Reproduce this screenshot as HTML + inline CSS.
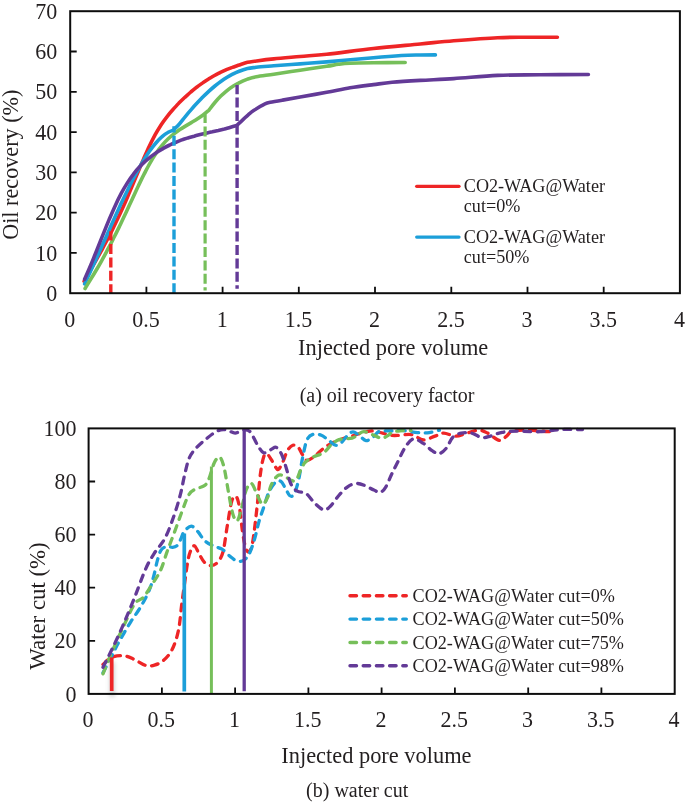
<!DOCTYPE html>
<html lang="en"><head><meta charset="utf-8"><title>CO2-WAG oil recovery and water cut</title>
<style>html,body{margin:0;padding:0;background:#fff}body{width:685px;height:804px;overflow:hidden}svg{display:block}text{font-family:"Liberation Serif","Times New Roman",serif;fill:#231F20}</style>
</head><body>
<svg width="685" height="804" viewBox="0 0 685 804">
<rect width="685" height="804" fill="#fff"/>
<g id="chart-a">
<path d="M84.1,281.3 C85.1,279.5 88.1,274.2 90.0,270.7 C92.0,267.2 94.0,263.9 96.0,260.4 C97.9,256.9 99.9,253.4 101.9,249.8 C103.9,246.1 105.8,242.4 107.8,238.6 C109.8,234.8 111.8,231.0 113.7,226.9 C115.7,222.9 117.7,218.8 119.7,214.6 C121.6,210.3 123.6,205.9 125.6,201.4 C127.6,196.9 129.5,192.1 131.5,187.5 C133.5,182.8 135.5,177.9 137.5,173.3 C139.4,168.6 141.4,163.9 143.4,159.4 C145.4,154.9 147.3,150.5 149.3,146.3 C151.3,142.2 153.3,138.3 155.2,134.7 C157.2,131.1 159.2,127.9 161.2,124.8 C163.1,121.8 165.1,119.1 167.1,116.6 C169.1,114.0 171.0,111.7 173.0,109.5 C175.0,107.3 177.0,105.2 178.9,103.1 C180.9,101.1 182.9,99.2 184.9,97.3 C186.9,95.5 188.8,93.7 190.8,92.0 C192.8,90.4 194.8,88.8 196.7,87.2 C198.7,85.7 200.7,84.3 202.7,82.9 C204.6,81.5 206.6,80.2 208.6,79.0 C210.6,77.8 212.5,76.6 214.5,75.5 C216.5,74.4 218.5,73.4 220.4,72.4 C222.4,71.5 224.4,70.6 226.4,69.7 C228.4,68.9 230.3,68.1 232.3,67.4 C234.3,66.6 235.7,66.2 238.2,65.3 C240.8,64.5 244.5,63.0 247.5,62.3 C250.5,61.6 251.9,61.6 256.3,61.0 C260.7,60.4 266.5,59.6 273.8,58.9 C281.1,58.1 291.3,57.3 300.1,56.5 C308.9,55.7 314.5,55.5 326.7,54.2 C338.9,52.9 357.8,50.2 373.4,48.5 C389.0,46.8 406.8,45.3 420.2,44.0 C433.6,42.7 440.9,41.8 453.8,40.7 C466.7,39.7 484.9,38.3 497.6,37.7 C510.3,37.1 520.0,37.4 530.0,37.3 C540.0,37.2 552.8,37.2 557.4,37.2" fill="none" stroke="#EE2526" stroke-width="3.6" stroke-linecap="round" stroke-linejoin="round"/>
<path d="M84.6,283.9 C85.6,281.8 88.6,275.5 90.5,271.2 C92.5,267.0 94.5,262.7 96.5,258.3 C98.5,254.0 100.4,249.6 102.4,245.1 C104.4,240.7 106.4,236.2 108.4,231.8 C110.3,227.4 112.3,222.9 114.3,218.5 C116.3,214.2 118.3,209.8 120.2,205.5 C122.2,201.3 124.2,197.0 126.2,193.0 C128.2,188.9 130.1,184.8 132.1,181.0 C134.1,177.1 136.1,173.4 138.1,169.8 C140.0,166.3 142.0,162.8 144.0,159.6 C146.0,156.4 148.0,153.4 149.9,150.6 C151.9,147.9 153.9,145.3 155.9,143.0 C157.9,140.7 159.8,138.6 161.8,136.9 C163.8,135.1 165.8,133.6 167.8,132.5 C169.7,131.3 172.7,130.4 173.7,130.0 C174.7,128.9 177.6,125.9 179.6,123.7 C181.6,121.4 183.5,118.7 185.5,116.3 C187.4,114.0 189.4,111.6 191.4,109.4 C193.3,107.1 195.3,104.9 197.3,102.8 C199.2,100.7 201.2,98.7 203.1,96.7 C205.1,94.7 207.1,92.9 209.0,91.1 C211.0,89.3 213.0,87.6 214.9,86.0 C216.9,84.4 218.8,82.9 220.8,81.5 C222.8,80.1 224.7,78.8 226.7,77.5 C228.7,76.3 230.6,75.2 232.6,74.2 C234.5,73.2 236.0,72.4 238.5,71.5 C241.0,70.5 244.5,69.2 247.5,68.5 C250.5,67.8 251.9,67.8 256.3,67.3 C260.7,66.8 266.5,66.4 273.8,65.8 C281.1,65.2 291.3,64.5 300.1,63.9 C308.9,63.2 314.5,62.9 326.7,61.9 C338.9,60.9 360.9,58.8 373.4,57.7 C385.9,56.6 393.7,56.0 401.5,55.5 C409.3,55.0 414.6,55.1 420.2,55.0 C425.8,54.9 432.9,54.9 435.4,54.9" fill="none" stroke="#1C9FD9" stroke-width="3.6" stroke-linecap="round" stroke-linejoin="round"/>
<path d="M85.1,288.5 C86.1,286.9 89.0,282.0 91.0,278.8 C93.0,275.6 94.9,272.4 96.9,269.0 C98.9,265.7 100.8,262.2 102.8,258.7 C104.8,255.1 106.7,251.4 108.7,247.7 C110.7,244.0 112.6,240.1 114.6,236.2 C116.6,232.3 118.5,228.3 120.5,224.2 C122.5,220.1 124.4,215.9 126.4,211.7 C128.4,207.5 130.3,203.1 132.3,198.9 C134.3,194.6 136.2,190.4 138.2,186.2 C140.2,182.1 142.1,178.0 144.1,174.2 C146.1,170.4 148.0,166.6 150.0,163.2 C152.0,159.7 153.9,156.5 155.9,153.6 C157.9,150.6 159.8,148.0 161.8,145.7 C163.8,143.3 165.7,141.2 167.7,139.3 C169.7,137.4 171.6,135.7 173.6,134.1 C175.6,132.6 177.5,131.2 179.5,129.8 C181.5,128.5 183.4,127.3 185.4,126.1 C187.4,124.9 189.3,123.8 191.3,122.6 C193.3,121.4 195.2,120.3 197.2,119.0 C199.2,117.7 201.1,116.5 203.1,115.0 C205.1,113.5 208.0,110.9 209.0,110.1 C210.0,108.8 212.9,104.8 214.9,102.5 C216.9,100.2 218.8,98.1 220.8,96.1 C222.7,94.2 224.7,92.5 226.7,90.8 C228.6,89.2 230.6,87.8 232.6,86.5 C234.5,85.2 236.0,84.3 238.5,83.1 C240.9,81.8 244.5,80.1 247.5,79.1 C250.5,78.1 251.9,77.6 256.3,76.8 C260.7,76.0 266.5,75.3 273.8,74.2 C281.1,73.1 291.3,71.5 300.1,70.2 C308.9,68.9 320.3,67.3 326.7,66.3 C333.1,65.3 334.5,64.8 338.4,64.3 C342.3,63.8 344.3,63.5 350.1,63.3 C355.9,63.0 364.2,62.9 373.4,62.8 C382.6,62.7 399.9,62.5 405.2,62.5" fill="none" stroke="#76BF5A" stroke-width="3.6" stroke-linecap="round" stroke-linejoin="round"/>
<path d="M84.6,279.3 C85.6,277.0 88.7,270.2 90.7,265.3 C92.7,260.5 94.7,255.3 96.8,250.2 C98.8,245.1 100.8,240.0 102.9,234.9 C104.9,229.9 106.9,224.9 108.9,220.1 C111.0,215.3 113.0,210.6 115.0,206.2 C117.0,201.8 119.1,197.5 121.1,193.7 C123.1,189.8 125.2,186.3 127.2,183.1 C129.2,179.8 131.2,176.9 133.3,174.3 C135.3,171.6 137.3,169.2 139.4,167.1 C141.4,164.9 143.4,162.9 145.4,161.1 C147.5,159.3 149.5,157.7 151.5,156.1 C153.6,154.6 155.6,153.2 157.6,151.8 C159.6,150.5 161.7,149.3 163.7,148.1 C165.7,147.0 167.7,145.9 169.8,145.0 C171.8,144.0 173.8,143.1 175.9,142.3 C177.9,141.4 179.9,140.7 181.9,139.9 C184.0,139.2 186.0,138.6 188.0,137.9 C190.1,137.3 192.1,136.7 194.1,136.2 C196.1,135.6 198.2,135.1 200.2,134.6 C202.2,134.1 204.3,133.6 206.3,133.2 C208.3,132.7 210.3,132.2 212.4,131.8 C214.4,131.3 216.4,130.8 218.4,130.4 C220.5,129.9 222.5,129.4 224.5,128.9 C226.6,128.3 228.6,127.8 230.6,127.2 C232.6,126.6 235.7,125.7 236.7,125.4 C237.7,124.5 240.5,121.9 242.5,120.1 C244.4,118.4 246.3,116.4 248.2,114.8 C250.1,113.2 251.2,112.1 254.0,110.3 C256.8,108.5 262.3,105.2 265.0,103.9 C267.7,102.6 267.4,102.8 270.3,102.2 C273.2,101.6 277.6,100.9 282.6,100.1 C287.6,99.2 292.8,98.4 300.1,97.1 C307.5,95.8 318.4,93.8 326.7,92.3 C335.0,90.8 342.3,89.1 350.1,87.8 C357.9,86.5 366.4,85.5 373.4,84.6 C380.4,83.7 384.3,83.0 392.1,82.3 C399.9,81.6 409.9,81.0 420.2,80.4 C430.5,79.8 440.9,79.4 453.8,78.6 C466.7,77.8 483.2,76.0 497.6,75.4 C512.0,74.8 524.9,75.0 540.0,74.8 C555.1,74.6 580.3,74.5 588.4,74.5" fill="none" stroke="#633A97" stroke-width="3.6" stroke-linecap="round" stroke-linejoin="round"/>
<line x1="110.8" y1="231.2" x2="110.8" y2="293" stroke="#EE2526" stroke-width="3.4" stroke-dasharray="10 3.4" stroke-dashoffset="0.6"/>
<line x1="174.0" y1="126.3" x2="174.0" y2="293" stroke="#1C9FD9" stroke-width="3.4" stroke-dasharray="10 3.4" stroke-dashoffset="3.9"/>
<line x1="205.1" y1="114.3" x2="205.1" y2="290.4" stroke="#76BF5A" stroke-width="3.2" stroke-dasharray="10 3.4" stroke-dashoffset="1.3"/>
<line x1="237.1" y1="85" x2="237.1" y2="288.7" stroke="#633A97" stroke-width="3.4" stroke-dasharray="10 3.4" stroke-dashoffset="0.8"/>
<rect x="70.2" y="11.2" width="609.7" height="282.0" fill="none" stroke="#0d0d0d" stroke-width="2.0"/>
<path d="M146.4,293.2 v-6.5 M222.6,293.2 v-6.5 M298.8,293.2 v-6.5 M375.0,293.2 v-6.5 M451.3,293.2 v-6.5 M527.5,293.2 v-6.5 M603.7,293.2 v-6.5 M70.2,252.9 h6.5 M70.2,212.6 h6.5 M70.2,172.3 h6.5 M70.2,132.1 h6.5 M70.2,91.8 h6.5 M70.2,51.5 h6.5" stroke="#0d0d0d" stroke-width="1.8" fill="none"/>
<text transform="translate(69.8,327.3) scale(1,1.06)" font-size="22" text-anchor="middle">0</text>
<text transform="translate(146.0,327.3) scale(1,1.06)" font-size="22" text-anchor="middle">0.5</text>
<text transform="translate(222.2,327.3) scale(1,1.06)" font-size="22" text-anchor="middle">1</text>
<text transform="translate(298.4,327.3) scale(1,1.06)" font-size="22" text-anchor="middle">1.5</text>
<text transform="translate(374.6,327.3) scale(1,1.06)" font-size="22" text-anchor="middle">2</text>
<text transform="translate(450.9,327.3) scale(1,1.06)" font-size="22" text-anchor="middle">2.5</text>
<text transform="translate(527.1,327.3) scale(1,1.06)" font-size="22" text-anchor="middle">3</text>
<text transform="translate(603.3,327.3) scale(1,1.06)" font-size="22" text-anchor="middle">3.5</text>
<text transform="translate(679.5,327.3) scale(1,1.06)" font-size="22" text-anchor="middle">4</text>
<text transform="translate(57.2,300.8) scale(1,1.06)" font-size="22" text-anchor="end">0</text>
<text transform="translate(57.2,260.5) scale(1,1.06)" font-size="22" text-anchor="end">10</text>
<text transform="translate(57.2,220.2) scale(1,1.06)" font-size="22" text-anchor="end">20</text>
<text transform="translate(57.2,179.9) scale(1,1.06)" font-size="22" text-anchor="end">30</text>
<text transform="translate(57.2,139.7) scale(1,1.06)" font-size="22" text-anchor="end">40</text>
<text transform="translate(57.2,99.4) scale(1,1.06)" font-size="22" text-anchor="end">50</text>
<text transform="translate(57.2,59.1) scale(1,1.06)" font-size="22" text-anchor="end">60</text>
<text transform="translate(57.2,18.8) scale(1,1.06)" font-size="22" text-anchor="end">70</text>
<text x="393.2" y="354.8" font-size="22.4" text-anchor="middle">Injected pore volume</text>
<text transform="translate(18.3,164.7) rotate(-90)" font-size="22.2" text-anchor="middle">Oil recovery (%)</text>
<text x="387.1" y="401.7" font-size="20" text-anchor="middle">(a) oil recovery factor</text>
<line x1="416.7" y1="186.3" x2="459" y2="186.3" stroke="#EE2526" stroke-width="3.3" stroke-linecap="round"/>
<line x1="416.7" y1="237.1" x2="459" y2="237.1" stroke="#1C9FD9" stroke-width="3.3" stroke-linecap="round"/>
<text font-size="18.15" x="463.8" y="191.7">CO2-WAG@Water</text>
<text font-size="18.15" x="463.8" y="212.4">cut=0%</text>
<text font-size="18.15" x="463.8" y="242.8">CO2-WAG@Water</text>
<text font-size="18.15" x="463.8" y="263.4">cut=50%</text>
</g>
<g id="chart-b">
<path d="M103.0,664.5 C104.5,663.3 108.2,658.9 111.7,657.4 C115.2,655.9 120.0,655.3 123.8,655.7 C127.6,656.1 131.0,658.0 134.7,659.6 C138.3,661.2 142.4,664.6 145.7,665.5 C149.0,666.4 151.5,665.9 154.4,665.1 C157.3,664.3 160.3,663.2 163.2,660.7 C166.1,658.2 169.4,654.9 172.0,649.8 C174.6,644.7 176.9,637.8 178.5,630.1 C180.1,622.4 180.7,612.2 181.8,603.8 C182.9,595.4 184.1,587.0 185.1,579.7 C186.1,572.4 187.0,565.2 188.0,560.1 C189.0,555.0 190.2,551.6 191.3,549.2 C192.4,546.8 193.3,545.2 194.6,545.9 C195.9,546.6 197.4,550.9 199.0,553.6 C200.6,556.3 202.4,560.3 204.4,562.3 C206.4,564.3 208.8,565.6 211.0,565.6 C213.2,565.6 215.6,564.7 217.6,562.3 C219.6,559.9 221.5,557.6 223.1,551.4 C224.7,545.2 225.9,533.5 227.4,525.1 C228.9,516.7 230.3,505.8 231.8,501.0 C233.3,496.2 234.9,495.5 236.2,496.6 C237.5,497.7 238.4,501.4 239.5,507.6 C240.6,513.8 241.7,527.0 242.8,533.9 C243.9,540.8 245.0,546.3 246.1,549.2 C247.2,552.1 248.2,552.5 249.3,551.4 C250.4,550.3 251.3,549.9 252.6,542.6 C253.9,535.3 255.7,518.9 257.0,507.6 C258.3,496.3 259.2,483.1 260.3,474.7 C261.4,466.3 262.5,460.7 263.6,457.2 C264.7,453.7 265.6,453.5 266.9,453.9 C268.2,454.3 269.8,457.2 271.2,459.4 C272.6,461.6 274.4,465.5 275.6,467.1 C276.8,468.8 277.4,470.2 278.6,469.3 C279.8,468.4 281.5,464.7 283.0,461.6 C284.5,458.5 285.8,453.4 287.4,450.7 C289.0,448.0 291.0,445.8 292.8,445.2 C294.6,444.6 296.7,445.8 298.3,447.4 C299.9,449.0 301.2,452.8 302.7,455.0 C304.2,457.2 305.1,460.3 307.1,460.5 C309.1,460.7 312.0,458.1 314.7,456.1 C317.4,454.1 320.6,450.7 323.5,448.5 C326.4,446.3 329.0,444.6 332.3,443.0 C335.6,441.4 339.6,439.9 343.2,438.6 C346.8,437.3 350.5,436.4 354.2,435.3 C357.9,434.2 361.8,432.7 365.1,432.0 C368.4,431.3 371.0,430.7 373.9,430.9 C376.8,431.1 379.7,432.4 382.6,433.1 C385.5,433.8 388.5,434.9 391.4,435.3 C394.3,435.7 396.7,435.4 400.1,435.3 C403.5,435.2 407.8,433.8 411.7,434.6 C415.6,435.4 419.5,439.6 423.4,439.9 C427.3,440.1 431.6,437.2 435.0,436.1 C438.4,435.0 440.4,433.1 443.8,433.1 C447.2,433.1 451.6,436.1 455.5,436.1 C459.4,436.1 463.3,434.1 467.2,433.1 C471.1,432.1 475.4,430.2 478.8,430.2 C482.2,430.2 484.2,431.4 487.6,433.1 C491.0,434.8 496.1,439.9 499.3,440.4 C502.5,440.9 504.4,437.7 506.6,436.1 C508.8,434.6 508.8,432.1 512.4,431.1 C516.0,430.1 523.9,430.2 528.5,430.2 C533.1,430.2 536.0,430.9 540.1,431.1 C544.2,431.4 551.1,431.6 553.3,431.7" fill="none" stroke="#EE2526" stroke-width="3.3" stroke-dasharray="6.7 6.7" stroke-linecap="round" stroke-linejoin="round"/>
<path d="M103.0,672.8 C104.6,669.6 110.4,658.4 112.8,653.7 C115.2,649.0 115.7,647.8 117.5,644.4 C119.3,641.0 121.7,637.1 123.9,633.3 C126.1,629.5 128.4,625.5 130.9,621.6 C133.4,617.7 136.3,613.8 138.7,610.0 C141.1,606.2 143.1,602.7 145.1,598.9 C147.1,595.1 148.9,591.1 150.4,587.2 C151.9,583.3 152.7,580.0 153.9,575.5 C155.1,571.0 156.2,564.6 157.4,560.4 C158.6,556.2 159.4,552.7 160.9,550.4 C162.4,548.1 164.8,546.9 166.7,546.4 C168.6,545.9 170.8,547.5 172.6,547.3 C174.3,547.1 175.8,546.7 177.2,545.4 C178.5,544.1 179.5,541.6 180.7,539.3 C181.9,537.0 182.4,533.7 184.2,531.5 C186.0,529.3 189.0,526.2 191.3,526.2 C193.6,526.2 195.7,529.3 197.9,531.7 C200.1,534.1 201.9,538.0 204.4,540.4 C206.9,542.8 210.3,544.4 213.2,545.9 C216.1,547.4 219.1,547.4 222.0,549.2 C224.9,551.0 228.1,554.9 230.7,556.9 C233.2,558.9 235.1,560.7 237.3,561.2 C239.5,561.7 241.9,561.4 243.9,560.1 C245.9,558.8 247.5,557.2 249.3,553.6 C251.1,550.0 253.2,543.7 254.8,538.2 C256.4,532.7 257.7,525.8 259.2,520.7 C260.7,515.6 262.0,512.3 263.6,507.6 C265.2,502.9 266.9,496.5 268.8,492.3 C270.8,488.1 273.3,484.2 275.3,482.4 C277.3,480.6 279.2,480.4 280.8,481.3 C282.4,482.2 283.7,485.5 285.2,487.9 C286.7,490.3 288.2,494.4 289.6,495.5 C291.1,496.6 292.4,496.8 293.9,494.4 C295.3,492.0 296.8,487.5 298.3,481.3 C299.8,475.1 301.2,464.1 302.7,457.2 C304.2,450.3 305.3,443.5 307.1,439.7 C308.9,435.9 311.2,434.9 313.6,434.2 C316.0,433.5 318.9,434.4 321.3,435.3 C323.7,436.2 325.5,438.1 327.9,439.7 C330.3,441.3 333.2,444.7 335.5,445.2 C337.8,445.7 339.5,444.2 341.5,442.5 C343.5,440.8 345.7,437.0 347.6,435.2 C349.5,433.4 351.1,431.8 353.0,431.8 C354.9,431.8 356.8,433.8 359.0,435.3 C361.2,436.8 363.7,440.3 366.0,440.6 C368.3,440.9 370.9,438.5 373.0,437.0 C375.1,435.5 376.6,432.8 378.6,431.8 C380.6,430.8 382.8,431.0 385.0,430.9 C387.2,430.8 389.5,431.0 392.0,430.9 C394.5,430.8 395.8,429.9 400.0,430.2 C404.2,430.5 412.6,432.2 417.5,432.6 C422.4,433.0 425.6,433.0 429.2,432.6 C432.8,432.2 437.7,430.6 439.4,430.2" fill="none" stroke="#1C9FD9" stroke-width="3.3" stroke-dasharray="6.7 6.7" stroke-linecap="round" stroke-linejoin="round"/>
<path d="M103.0,673.9 C104.6,669.9 109.3,657.8 112.8,649.8 C116.3,641.8 120.2,633.4 123.8,625.7 C127.4,618.0 131.4,608.5 134.7,603.8 C138.0,599.0 140.6,600.5 143.5,597.2 C146.4,593.9 149.4,588.6 152.3,584.1 C155.2,579.6 158.2,575.5 160.7,570.0 C163.2,564.5 165.0,557.4 167.2,551.4 C169.4,545.4 171.2,540.8 173.8,533.9 C176.4,527.0 180.1,516.4 182.6,509.8 C185.1,503.2 186.9,497.9 189.1,494.4 C191.3,490.9 193.1,490.4 195.7,489.0 C198.2,487.6 202.2,487.3 204.4,485.7 C206.6,484.1 207.2,482.9 208.8,479.1 C210.5,475.3 212.5,466.4 214.3,462.7 C216.1,459.0 218.2,456.3 219.8,457.2 C221.5,458.1 222.8,462.3 224.2,468.2 C225.6,474.1 227.1,484.6 228.5,492.3 C229.9,500.0 231.4,509.5 232.9,514.2 C234.4,518.9 235.8,521.8 237.3,520.7 C238.8,519.6 240.2,512.7 241.7,507.6 C243.2,502.5 244.5,494.1 246.1,490.1 C247.7,486.1 249.7,482.8 251.5,483.5 C253.3,484.2 255.2,490.9 257.0,494.4 C258.8,497.9 260.7,503.9 262.5,504.3 C264.3,504.7 266.6,499.7 268.0,496.6 C269.4,493.5 269.3,489.2 270.9,485.7 C272.5,482.2 275.3,477.4 277.5,475.8 C279.7,474.2 281.9,475.1 284.1,475.8 C286.3,476.5 288.7,479.5 290.7,480.2 C292.7,480.9 294.5,481.8 296.1,480.2 C297.7,478.6 299.0,473.3 300.5,470.4 C302.0,467.5 302.9,464.9 304.9,462.7 C306.9,460.5 309.5,458.8 312.6,457.2 C315.7,455.6 320.4,454.8 323.5,452.8 C326.6,450.8 328.4,447.2 331.0,445.0 C333.6,442.8 335.5,440.8 339.0,439.6 C342.5,438.5 348.9,439.0 352.1,438.1 C355.3,437.2 356.1,435.6 358.0,434.5 C359.9,433.4 361.6,431.7 363.8,431.6 C366.0,431.5 368.6,433.0 371.0,434.0 C373.4,435.0 376.4,436.7 378.4,437.4 C380.4,438.1 381.2,438.4 382.8,438.1 C384.4,437.8 386.4,436.5 388.0,435.5 C389.6,434.5 390.3,433.1 392.3,432.3 C394.3,431.5 396.9,431.1 400.0,430.8 C403.1,430.5 409.2,430.6 411.0,430.5" fill="none" stroke="#76BF5A" stroke-width="3.3" stroke-dasharray="6.7 6.7" stroke-linecap="round" stroke-linejoin="round"/>
<path d="M103.0,667.3 C104.6,664.0 109.3,654.9 112.8,647.6 C116.3,640.3 120.2,631.9 123.8,623.5 C127.4,615.1 131.0,606.3 134.7,597.2 C138.3,588.1 142.5,576.1 145.7,568.8 C148.9,561.5 150.9,558.7 154.1,553.6 C157.3,548.5 161.7,544.4 165.0,538.2 C168.3,532.0 171.2,523.6 173.8,516.3 C176.4,509.0 178.6,501.3 180.4,494.4 C182.2,487.5 183.2,480.7 184.7,474.7 C186.1,468.7 187.3,462.7 189.1,458.3 C190.9,453.9 192.8,451.8 195.7,448.5 C198.6,445.2 202.9,441.5 206.6,438.6 C210.2,435.7 214.3,432.3 217.6,430.9 C220.9,429.4 223.4,429.5 226.3,429.9 C229.2,430.3 232.2,433.1 235.1,433.1 C238.0,433.1 241.3,430.1 243.9,429.9 C246.5,429.7 248.2,429.6 250.4,432.0 C252.6,434.4 254.8,440.6 257.0,444.1 C259.2,447.6 261.3,451.9 263.6,452.8 C265.9,453.7 268.8,450.5 270.9,449.6 C273.0,448.7 274.6,446.5 276.4,447.4 C278.2,448.3 280.2,451.5 281.9,455.0 C283.5,458.5 284.8,463.4 286.3,468.2 C287.8,472.9 288.9,479.7 290.7,483.5 C292.5,487.3 294.6,489.6 297.2,491.2 C299.8,492.8 303.1,491.4 306.0,493.4 C308.9,495.4 311.8,500.5 314.7,503.2 C317.6,505.9 320.9,509.2 323.5,509.8 C326.1,510.4 327.6,508.9 330.1,506.5 C332.7,504.1 335.9,498.8 338.8,495.5 C341.7,492.2 344.7,488.8 347.6,486.8 C350.5,484.8 353.4,483.7 356.3,483.5 C359.2,483.3 362.2,484.6 365.1,485.7 C368.0,486.8 371.3,489.0 373.9,490.1 C376.4,491.2 378.4,492.9 380.4,492.3 C382.4,491.8 384.1,489.7 385.9,486.8 C387.7,483.9 389.4,478.9 391.4,474.7 C393.4,470.5 395.7,466.0 397.9,461.6 C400.1,457.2 402.0,452.3 404.5,448.5 C407.0,444.7 410.0,439.9 413.1,439.0 C416.2,438.1 420.2,441.4 423.4,443.4 C426.6,445.3 429.4,449.0 432.1,450.7 C434.8,452.4 437.0,454.1 439.4,453.6 C441.8,453.1 444.5,450.4 446.7,447.7 C448.9,445.0 450.2,439.9 452.6,437.5 C455.0,435.1 458.2,433.8 461.3,433.1 C464.4,432.4 468.1,432.4 471.5,433.1 C474.9,433.8 478.6,437.0 481.8,437.5 C485.0,438.0 487.1,437.0 490.5,436.1 C493.9,435.2 497.8,433.1 502.2,432.3 C506.6,431.5 510.5,431.2 516.8,431.1 C523.1,431.0 532.8,431.9 540.1,431.7 C547.4,431.4 553.5,430.0 560.6,429.6 C567.7,429.2 578.9,429.6 582.5,429.6" fill="none" stroke="#633A97" stroke-width="3.3" stroke-dasharray="6.7 6.7" stroke-linecap="round" stroke-linejoin="round"/>
<defs><filter id="soft" filterUnits="userSpaceOnUse" x="92" y="648" width="40" height="60"><feGaussianBlur stdDeviation="2"/></filter></defs>
<line x1="112.2" y1="662" x2="112.2" y2="697" stroke="#8f9696" stroke-width="5.5" opacity="0.38" filter="url(#soft)"/>
<line x1="111.7" y1="657.4" x2="111.7" y2="691.0" stroke="#EE2526" stroke-width="3.7"/>
<line x1="184.3" y1="533.5" x2="184.3" y2="691.6" stroke="#1C9FD9" stroke-width="3.7"/>
<line x1="211.4" y1="466.5" x2="211.4" y2="693.9" stroke="#76BF5A" stroke-width="3.0"/>
<line x1="244.2" y1="430" x2="244.2" y2="691.2" stroke="#633A97" stroke-width="3.3"/>
<rect x="88.6" y="428.4" width="586.1" height="265.5" fill="none" stroke="#0d0d0d" stroke-width="2.0"/>
<path d="M161.9,693.9 v-6.5 M235.1,693.9 v-6.5 M308.4,693.9 v-6.5 M381.6,693.9 v-6.5 M454.9,693.9 v-6.5 M528.2,693.9 v-6.5 M601.4,693.9 v-6.5 M88.6,640.8 h6.5 M88.6,587.7 h6.5 M88.6,534.6 h6.5 M88.6,481.5 h6.5" stroke="#0d0d0d" stroke-width="1.8" fill="none"/>
<text transform="translate(88.0,727.3) scale(1,1.06)" font-size="22" text-anchor="middle">0</text>
<text transform="translate(161.3,727.3) scale(1,1.06)" font-size="22" text-anchor="middle">0.5</text>
<text transform="translate(234.5,727.3) scale(1,1.06)" font-size="22" text-anchor="middle">1</text>
<text transform="translate(307.8,727.3) scale(1,1.06)" font-size="22" text-anchor="middle">1.5</text>
<text transform="translate(381.0,727.3) scale(1,1.06)" font-size="22" text-anchor="middle">2</text>
<text transform="translate(454.3,727.3) scale(1,1.06)" font-size="22" text-anchor="middle">2.5</text>
<text transform="translate(527.6,727.3) scale(1,1.06)" font-size="22" text-anchor="middle">3</text>
<text transform="translate(600.8,727.3) scale(1,1.06)" font-size="22" text-anchor="middle">3.5</text>
<text transform="translate(674.1,727.3) scale(1,1.06)" font-size="22" text-anchor="middle">4</text>
<text transform="translate(76.4,701.5) scale(1,1.06)" font-size="22" text-anchor="end">0</text>
<text transform="translate(76.4,648.4) scale(1,1.06)" font-size="22" text-anchor="end">20</text>
<text transform="translate(76.4,595.3) scale(1,1.06)" font-size="22" text-anchor="end">40</text>
<text transform="translate(76.4,542.2) scale(1,1.06)" font-size="22" text-anchor="end">60</text>
<text transform="translate(76.4,489.1) scale(1,1.06)" font-size="22" text-anchor="end">80</text>
<text transform="translate(76.4,436.0) scale(1,1.06)" font-size="22" text-anchor="end">100</text>
<text x="376.4" y="762.6" font-size="22.4" text-anchor="middle">Injected pore volume</text>
<text transform="translate(45.3,606.0) rotate(-90)" font-size="22.8" text-anchor="middle">Water cut (%)</text>
<text x="357.2" y="797.3" font-size="20" text-anchor="middle">(b) water cut</text>
<line x1="350" y1="595.8" x2="406.3" y2="595.8" stroke="#EE2526" stroke-width="3.4" stroke-dasharray="6.5 6.7" stroke-linecap="round"/>
<text font-size="18.15" x="412.6" y="601.9">CO2-WAG@Water cut=0%</text>
<line x1="350" y1="619.1" x2="406.3" y2="619.1" stroke="#1C9FD9" stroke-width="3.4" stroke-dasharray="6.5 6.7" stroke-linecap="round"/>
<text font-size="18.15" x="412.6" y="625.2">CO2-WAG@Water cut=50%</text>
<line x1="350" y1="642.5" x2="406.3" y2="642.5" stroke="#76BF5A" stroke-width="3.4" stroke-dasharray="6.5 6.7" stroke-linecap="round"/>
<text font-size="18.15" x="412.6" y="648.6">CO2-WAG@Water cut=75%</text>
<line x1="350" y1="665.8" x2="406.3" y2="665.8" stroke="#633A97" stroke-width="3.4" stroke-dasharray="6.5 6.7" stroke-linecap="round"/>
<text font-size="18.15" x="412.6" y="671.9">CO2-WAG@Water cut=98%</text>
</g>
</svg></body></html>
